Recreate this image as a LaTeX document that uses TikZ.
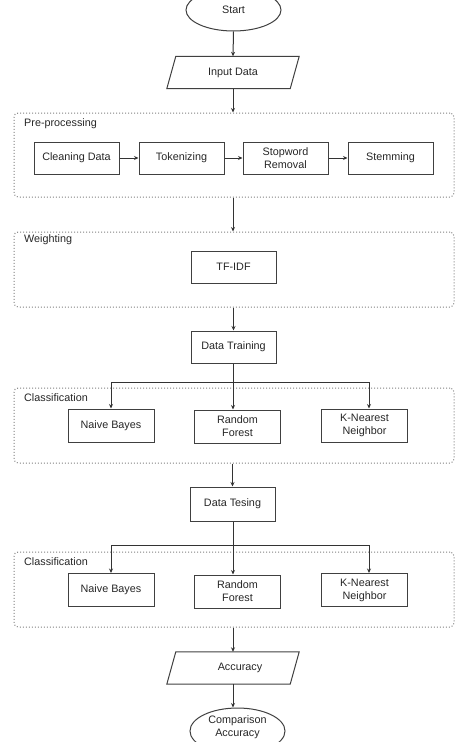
\documentclass[tikz,border=0pt]{standalone}
\usepackage{fontspec}
\setmainfont{Liberation Sans}
\usetikzlibrary{shapes.geometric,arrows.meta,calc}
\begin{document}
\begin{tikzpicture}[x=1pt,y=-1pt,
  every node/.style={font=\fontsize{10.8}{13}\selectfont, text=black!85},
  proc/.style={draw=black!75, line width=1pt, minimum width=85pt, minimum height=32pt, inner sep=1pt, align=center},
  term/.style={draw=black!75, line width=1pt, ellipse, minimum width=95pt, minimum height=42pt, inner sep=0pt, align=center},
  iobase/.style={minimum width=132pt, minimum height=32pt, inner sep=0pt},
  iobox/.style={draw=black!75, line width=1pt},
  group/.style={draw=black!50, dotted, line width=1pt, rounded corners=4pt},
  grouplabel/.style={anchor=west, inner sep=0pt},
  arr/.style={draw=black!80, line width=1pt, -{Stealth[length=4.5pt,width=4pt]}},
  ln/.style={draw=black!80, line width=1pt}
]
\useasboundingbox (0,0) rectangle (474,742);
\clip (0,0) rectangle (474,742);

% start
\node[term] (start) at (233.5,10) {Start};

% input data
\node[iobase] (in) at (233,72.5) {Input Data};
\draw[iobox] ($(in.north west)+(9,0)$) -- (in.north east) -- ($(in.south east)+(-9,0)$) -- (in.south west) -- cycle;

% pre-processing group
\node[group, minimum width=440pt, minimum height=84pt] (pre) at (234,155) {};
\node[grouplabel] (prel) at (24,124) {Pre-processing};
\node[proc] (clean) at (76.5,158) {Cleaning Data};
\node[proc] (tok) at (181.5,158) {Tokenizing};
\node[proc] (stop) at (285.5,158) {Stopword\\Removal};
\node[proc] (stem) at (390.5,158) {Stemming};

% weighting group
\node[group, minimum width=440pt, minimum height=75pt] (wei) at (234,269.5) {};
\node[grouplabel] (weil) at (24,240) {Weighting};
\node[proc] (tfidf) at (233.5,267) {TF-IDF};

% data training
\node[proc] (train) at (233.5,347) {Data Training};

% classification 1
\node[group, minimum width=440pt, minimum height=75pt] (cls1) at (234,425.5) {};
\node[grouplabel] (cls1l) at (24,398) {Classification};
\node[proc, minimum width=86pt, minimum height=33pt] (nb1) at (111,425.5) {Naive Bayes};
\node[proc, minimum width=86pt, minimum height=33pt] (rf1) at (237.5,426.5) {Random\\Forest};
\node[proc, minimum width=86pt, minimum height=33pt] (kn1) at (364.5,425.5) {K-Nearest\\Neighbor};
\coordinate (h1) at (233,382);
\coordinate (k1) at (369,382);

% data testing
\node[proc, minimum height=34pt] (test) at (232.5,504) {Data Tesing};

% classification 2
\node[group, minimum width=440pt, minimum height=75pt] (cls2) at (234,589.5) {};
\node[grouplabel] (cls2l) at (24,562) {Classification};
\node[proc, minimum width=86pt, minimum height=33pt] (nb2) at (111,590) {Naive Bayes};
\node[proc, minimum width=86pt, minimum height=33pt] (rf2) at (237.5,591.5) {Random\\Forest};
\node[proc, minimum width=86pt, minimum height=33pt] (kn2) at (364.5,590) {K-Nearest\\Neighbor};
\coordinate (h2) at (233,545);
\coordinate (k2) at (369,545);

% accuracy
\node[iobase] (acc) at (233,668) {};
\draw[iobox] ($(acc.north west)+(9,0)$) -- (acc.north east) -- ($(acc.south east)+(-9,0)$) -- (acc.south west) -- cycle;
\node (acct) at (240,668) {Accuracy};

% comparison accuracy
\node[term, minimum height=46pt] (comp) at (237.5,731) {};
\node[align=center, inner sep=0pt] (compt) at (237.5,727.5) {Comparison\\Accuracy};

% connectors
\draw[arr] (start.south) -- (in.north);
\draw[arr] (in.south) -- (in.south |- pre.north);
\draw[arr] (clean) -- (tok);
\draw[arr] (tok) -- (stop);
\draw[arr] (stop) -- (stem);
\draw[arr] (pre.south -| in.south) -- (in.south |- wei.north);
\draw[arr] (wei.south -| train.south) -- (train.north);
\draw[arr] (train.south -| h1) -- (h1 |- rf1.north);
\draw[ln] (h1 -| nb1.north) -- (k1);
\draw[arr] (h1 -| nb1.north) -- (nb1.north);
\draw[arr] (k1) -- (k1 |- kn1.north);
\draw[arr] (cls1.south -| test.north) -- (test.north);
\draw[arr] (test.south -| h2) -- (h2 |- rf2.north);
\draw[ln] (h2 -| nb2.north) -- (k2);
\draw[arr] (h2 -| nb2.north) -- (nb2.north);
\draw[arr] (k2) -- (k2 |- kn2.north);
\draw[arr] (cls2.south -| acc.north) -- (acc.north);
\draw[arr] (acc.south) -- (acc.south |- comp.north);
\end{tikzpicture}
\end{document}
